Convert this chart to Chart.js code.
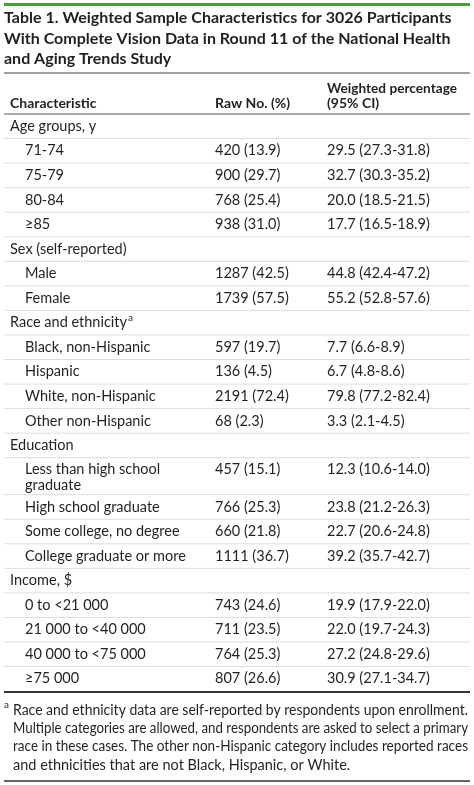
<!DOCTYPE html>
<html><head><meta charset="utf-8">
<script src="https://cdn.jsdelivr.net/npm/chart.js@4"></script>
<style>html,body{margin:0;padding:0;background:#fff}</style>
</head><body>
<canvas id="c" width="474" height="785"></canvas>
<script>
const titleLines = ["Table 1. Weighted Sample Characteristics for 3026 Participants","With Complete Vision Data in Round 11 of the National Health","and Aging Trends Study"];
const headers = ["Characteristic","Raw No. (%)","Weighted percentage","(95% CI)"];
const groupTitles = ["Age groups, y","Sex (self-reported)","Race and ethnicity","Education","Income, $"];
const groupMarks = ["","","a","",""];
const rowLabels = [
  ["71-74","75-79","80-84","≥85"],
  ["Male","Female"],
  ["Black, non-Hispanic","Hispanic","White, non-Hispanic","Other non-Hispanic"],
  ["Less than high school\ngraduate","High school graduate","Some college, no degree","College graduate or more"],
  ["0 to <21 000","21 000 to <40 000","40 000 to <75 000","≥75 000"]
];
const rawN = [[420,900,768,938],[1287,1739],[597,136,2191,68],[457,766,660,1111],[743,711,764,807]];
const rawPct = [[13.9,29.7,25.4,31.0],[42.5,57.5],[19.7,4.5,72.4,2.3],[15.1,25.3,21.8,36.7],[24.6,23.5,25.3,26.6]];
const wPct = [[29.5,32.7,20.0,17.7],[44.8,55.2],[7.7,6.7,79.8,3.3],[12.3,23.8,22.7,39.2],[19.9,22.0,27.2,30.9]];
const ciLo = [[27.3,30.3,18.5,16.5],[42.4,52.8],[6.6,4.8,77.2,2.1],[10.6,21.2,20.6,35.7],[17.9,19.7,24.8,27.1]];
const ciHi = [[31.8,35.2,21.5,18.9],[47.2,57.6],[8.9,8.6,82.4,4.5],[14.0,26.3,24.8,42.7],[22.0,24.3,29.6,34.7]];
const footnoteLines = ["Race and ethnicity data are self-reported by respondents upon enrollment.","Multiple categories are allowed, and respondents are asked to select a primary","race in these cases. The other non-Hispanic category includes reported races","and ethnicities that are not Black, Hispanic, or White."];

const F = "Lato, 'Open Sans', sans-serif";
const tablePlugin = {
  id:'tableDraw',
  afterDraw(chart){
    const ctx = chart.ctx;
    const L=4, R=470, ink='#231f20';
    ctx.save();
    ctx.textBaseline='middle';
    function txt(s,x,y,font,maxW){
      ctx.font=font; ctx.fillStyle=ink;
      const w=ctx.measureText(s).width;
      if(maxW && w>maxW){ctx.save();ctx.translate(x,y);ctx.scale(maxW/w,1);ctx.fillText(s,0,0);ctx.restore();}
      else ctx.fillText(s,x,y);
    }
    function line(y,color,w,x0){ctx.strokeStyle=color;ctx.lineWidth=w;ctx.beginPath();ctx.moveTo(x0||L,y);ctx.lineTo(R,y);ctx.stroke();}
    ctx.fillStyle='#4f9a3c'; ctx.fillRect(L,3,R-L,3);
    titleLines.forEach((t,i)=>txt(t,L,18+i*20.5,"bold 16px "+F,i===0?458:null));
    line(73,'#444',1.2);
    txt(headers[0],10,103,"bold 14px "+F);
    txt(headers[1],215,103,"bold 14px "+F);
    txt(headers[2],327,88,"bold 14px "+F,130);
    txt(headers[3],327,103,"bold 14px "+F);
    line(114,'#555',1);
    const h=24.55; let y=114;
    const body="14.5px "+F;
    groupTitles.forEach((g,gi)=>{
      txt(g,10,y+h/2,body);
      if(groupMarks[gi]){ctx.font=body;const w=ctx.measureText(g).width;txt(groupMarks[gi],10+w+1,y+h/2-5,"10px "+F);}
      y+=h; line(y,'#dcdcdc',1);
      rowLabels[gi].forEach((lab,ri)=>{
        const parts=lab.split("\n");
        const rh = parts.length>1 ? 37 : h;
        const cy = y + (parts.length>1 ? 12 : rh/2);
        parts.forEach((p,pi)=>txt(p,25,cy+pi*16,body));
        txt(rawN[gi][ri]+" ("+rawPct[gi][ri].toFixed(1)+")",215,cy,body);
        txt(wPct[gi][ri].toFixed(1)+" ("+ciLo[gi][ri].toFixed(1)+"-"+ciHi[gi][ri].toFixed(1)+")",327,cy,body);
        y+=rh;
        const last = gi===groupTitles.length-1 && ri===rowLabels[gi].length-1;
        if(!last) line(y,'#dcdcdc',1);
      });
    });
    line(y+1,'#333',2);
    txt("a",4,705,"10px "+F);
    footnoteLines.forEach((t,i)=>txt(t,13,710+i*18.3,"14.5px "+F,455));
    line(781,'#333',1.5);
    ctx.restore();
  }
};
new Chart(document.getElementById('c'),{
  type:'bar',
  data:{labels:[],datasets:[]},
  options:{responsive:false,animation:false,devicePixelRatio:1,
    plugins:{legend:{display:false},tooltip:{enabled:false}},
    scales:{x:{display:false},y:{display:false}}},
  plugins:[tablePlugin]
});
</script>
</body></html>
